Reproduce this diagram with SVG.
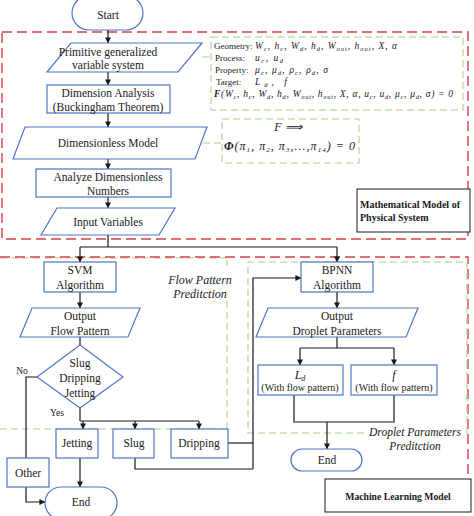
<svg xmlns="http://www.w3.org/2000/svg" width="474" height="516" viewBox="0 0 474 516">
<defs>
<marker id="ah" viewBox="0 0 8 8" refX="7.5" refY="4" markerWidth="6" markerHeight="6" orient="auto" markerUnits="userSpaceOnUse">
<path d="M0,0 L8,4 L0,8 z" fill="#1a1a1a"/>
</marker>
<style>
.n{fill:#fff;stroke:#4f74c2;stroke-width:1.2}
.t{font-family:"Liberation Serif","Times New Roman",serif;font-size:11.5px;fill:#1a1a1a;text-anchor:middle}
.s{font-family:"Liberation Serif","Times New Roman",serif;font-size:9px;fill:#1a1a1a}
.m{font-family:"Liberation Serif","Times New Roman",serif;font-size:9.5px;font-style:italic;fill:#1a1a1a}
.sb{font-size:6.5px;baseline-shift:-2px}
.lbl{font-family:"Liberation Serif","Times New Roman",serif;font-size:12px;font-style:italic;fill:#1a1a1a;text-anchor:middle}
.b{font-family:"Liberation Serif","Times New Roman",serif;font-size:10px;font-weight:bold;fill:#1a1a1a}
.c{fill:none;stroke:#1a1a1a;stroke-width:1.2}
.ca{fill:none;stroke:#1a1a1a;stroke-width:1.2;marker-end:url(#ah)}
.red{fill:none;stroke:#d8414a;stroke-width:1.4;stroke-dasharray:10 5}
.grn{fill:none;stroke:#a9d08c;stroke-width:1.1;stroke-dasharray:7 4}
.bx{fill:#fff;stroke:#1a1a1a;stroke-width:1}
</style>
</defs>

<!-- region frames -->
<g id="frames">
<line class="grn" x1="0" y1="258" x2="227" y2="258"/>
<rect class="red" x="2" y="32" width="466" height="207"/>
<polyline class="red" points="0,257 468,257 468,476"/>
<line class="grn" x1="227" y1="260" x2="227" y2="266"/>
<line class="grn" x1="227" y1="301" x2="227" y2="429"/>
<line class="grn" x1="0" y1="429" x2="227" y2="429"/>
<polyline class="grn" points="364,433 248,433 248,262 467,262 467,433 462,433"/>
<path class="grn" d="M202,57 H211"/>
<rect class="grn" x="211" y="37" width="252" height="73"/>
<path class="grn" d="M203,143 H222"/>
<rect class="grn" x="222" y="119" width="137" height="44"/>
</g>

<!-- connectors -->
<g id="connectors">
<line class="ca" x1="108" y1="30" x2="108" y2="43"/>
<line class="ca" x1="108" y1="72" x2="108" y2="85"/>
<line class="ca" x1="108" y1="113" x2="108" y2="127"/>
<line class="ca" x1="108" y1="159" x2="108" y2="169"/>
<line class="ca" x1="108" y1="197" x2="108" y2="208"/>
<polyline class="c" points="108,235 108,247"/>
<polyline class="c" points="80,247 337,247"/>
<line class="ca" x1="80" y1="247" x2="80" y2="262"/>
<line class="ca" x1="337" y1="247" x2="337" y2="262"/>
<line class="ca" x1="80" y1="292" x2="80" y2="308"/>
<line class="c" x1="80" y1="337" x2="80" y2="345"/>
<polyline class="c" points="37,377 26,377 26,458"/>
<polyline class="ca" points="26,487 26,502 45,502"/>
<polyline class="c" points="80,408 80,421"/>
<polyline class="c" points="80,421 199,421"/>
<line class="ca" x1="83" y1="421" x2="83" y2="429"/>
<line class="ca" x1="135" y1="421" x2="135" y2="429"/>
<line class="ca" x1="199" y1="421" x2="199" y2="429"/>
<line class="ca" x1="80" y1="458" x2="80" y2="487"/>
<polyline class="c" points="135,458 135,469 253,469"/>
<line class="c" x1="228" y1="443" x2="253" y2="443"/>
<polyline class="ca" points="253,469 253,278 301,278"/>
<line class="ca" x1="337" y1="292" x2="337" y2="308"/>
<line class="c" x1="337" y1="337" x2="337" y2="348"/>
<polyline class="c" points="300,348 394,348"/>
<line class="ca" x1="300" y1="348" x2="300" y2="365"/>
<line class="ca" x1="394" y1="348" x2="394" y2="365"/>
<polyline class="c" points="294,395 294,422 394,422 394,395"/>
<line class="ca" x1="327" y1="422" x2="327" y2="449"/>
</g>

<!-- nodes -->
<g id="start">
<rect class="n" x="72" y="-4" width="71" height="34" rx="17"/>
<text class="t" x="108" y="19">Start</text>
</g>
<g id="primitive">
<polygon class="n" points="71,43 202,43 178,72 47,72"/>
<text class="t" x="108" y="56">Primitive generalized</text>
<text class="t" x="108" y="69">variable system</text>
</g>
<g id="dimension-analysis">
<rect class="n" x="47" y="85" width="123" height="28"/>
<text class="t" x="108" y="97">Dimension Analysis</text>
<text class="t" x="108" y="111">(Buckingham  Theorem)</text>
</g>
<g id="dimensionless-model">
<polygon class="n" points="25,127 207,127 195,159 13,159"/>
<text class="t" x="108" y="147">Dimensionless Model</text>
</g>
<g id="analyze">
<rect class="n" x="36" y="169" width="135" height="28"/>
<text class="t" x="108" y="181">Analyze Dimensionless</text>
<text class="t" x="108" y="195">Numbers</text>
</g>
<g id="input-variables">
<polygon class="n" points="57,208 175,208 159,235 41,235"/>
<text class="t" x="108" y="226">Input Variables</text>
</g>

<g id="variables-box">
<text class="s" x="214" y="49">Geometry:</text>
<text class="m" x="255" y="49" textLength="142" lengthAdjust="spacing">W<tspan class="sb">c</tspan>, h<tspan class="sb">c</tspan>, W<tspan class="sb">d</tspan>, h<tspan class="sb">d</tspan>, W<tspan class="sb">out</tspan>, h<tspan class="sb">out</tspan>, X, α</text>
<text class="s" x="215" y="61">Process:</text>
<text class="m" x="255" y="61" textLength="28" lengthAdjust="spacing">u<tspan class="sb">c</tspan>, u<tspan class="sb">d</tspan></text>
<text class="s" x="215" y="73">Property:</text>
<text class="m" x="255" y="73" textLength="73" lengthAdjust="spacing">μ<tspan class="sb">c</tspan>, μ<tspan class="sb">d</tspan>, ρ<tspan class="sb">c</tspan>, ρ<tspan class="sb">d</tspan>, σ</text>
<text class="s" x="216" y="85">Target:</text>
<text class="m" x="255" y="85" textLength="32" lengthAdjust="spacing">L<tspan class="sb">d</tspan>, f</text>
<text class="m" x="214" y="97" textLength="239" lengthAdjust="spacing"><tspan font-weight="bold">F</tspan>(W<tspan class="sb">c</tspan>, h<tspan class="sb">c</tspan>, W<tspan class="sb">d</tspan>, h<tspan class="sb">d</tspan>, W<tspan class="sb">out</tspan>, h<tspan class="sb">out</tspan>, X, α, u<tspan class="sb">c</tspan>, u<tspan class="sb">d</tspan>, μ<tspan class="sb">c</tspan>, μ<tspan class="sb">d</tspan>, σ) = 0</text>
</g>
<g id="pi-box">
<text x="288" y="131" style="font-family:'Liberation Serif',serif;font-size:12px;font-style:italic;fill:#1a1a1a;text-anchor:middle">F ⟹</text>
<text x="224" y="150" textLength="131" lengthAdjust="spacing" style="font-family:'Liberation Serif',serif;font-size:12px;font-style:italic;fill:#1a1a1a"><tspan font-weight="bold">Φ</tspan>(π<tspan font-size="7" baseline-shift="-2">1</tspan>,  π<tspan font-size="7" baseline-shift="-2">2</tspan>,  π<tspan font-size="7" baseline-shift="-2">3</tspan>,...,π<tspan font-size="7" baseline-shift="-2">14</tspan>) = 0</text>
</g>
<g id="math-model-label">
<rect class="bx" x="357" y="189" width="113" height="43"/>
<text class="b" x="360" y="208">Mathematical Model of</text>
<text class="b" x="360" y="221">Physical System</text>
</g>

<g id="svm">
<rect class="n" x="44" y="262" width="72" height="30"/>
<text class="t" x="80" y="274">SVM</text>
<text class="t" x="80" y="289">Algorithm</text>
</g>
<g id="output-flow">
<polygon class="n" points="32,308 140,308 128,337 20,337"/>
<text class="t" x="80" y="320">Output</text>
<text class="t" x="80" y="335">Flow Pattern</text>
</g>
<g id="decision">
<polygon class="n" points="80,345 123,377 80,408 37,377"/>
<text class="t" x="80" y="367">Slug</text>
<text class="t" x="80" y="382">Dripping</text>
<text class="t" x="80" y="397">Jetting</text>
<text x="22" y="374" style="font-family:'Liberation Serif',serif;font-size:9.5px;fill:#1a1a1a;text-anchor:middle">No</text>
<text x="57" y="416" style="font-family:'Liberation Serif',serif;font-size:9.5px;fill:#1a1a1a;text-anchor:middle">Yes</text>
</g>
<g id="jetting">
<rect class="n" x="56" y="429" width="42" height="29"/>
<text class="t" x="77" y="447">Jetting</text>
</g>
<g id="slug">
<rect class="n" x="113" y="429" width="41" height="29"/>
<text class="t" x="134" y="447">Slug</text>
</g>
<g id="dripping">
<rect class="n" x="171" y="429" width="57" height="29"/>
<text class="t" x="199" y="447">Dripping</text>
</g>
<g id="other">
<rect class="n" x="7" y="458" width="42" height="29"/>
<text class="t" x="28" y="477">Other</text>
</g>
<g id="end-left">
<rect class="n" x="45" y="487" width="72" height="32" rx="16"/>
<text class="t" x="81" y="506">End</text>
</g>
<g id="flow-label">
<text class="lbl" x="200" y="284">Flow Pattern</text>
<text class="lbl" x="200" y="298">Preditction</text>
</g>

<g id="bpnn">
<rect class="n" x="301" y="262" width="72" height="30"/>
<text class="t" x="337" y="274">BPNN</text>
<text class="t" x="337" y="289">Algorithm</text>
</g>
<g id="output-droplet">
<polygon class="n" points="268,308 418,308 406,337 256,337"/>
<text class="t" x="337" y="320">Output</text>
<text class="t" x="337" y="335">Droplet Parameters</text>
</g>
<g id="ld">
<rect class="n" x="258" y="365" width="85" height="30"/>
<text x="300" y="379" style="font-family:'Liberation Serif',serif;font-size:12px;font-style:italic;fill:#1a1a1a;text-anchor:middle">L<tspan font-size="8" baseline-shift="-2">d</tspan></text>
<text x="300" y="391" style="font-family:'Liberation Serif',serif;font-size:10px;fill:#1a1a1a;text-anchor:middle">(With flow pattern)</text>
</g>
<g id="f">
<rect class="n" x="351" y="365" width="86" height="30"/>
<text x="394" y="379" style="font-family:'Liberation Serif',serif;font-size:12px;font-style:italic;fill:#1a1a1a;text-anchor:middle">f</text>
<text x="394" y="391" style="font-family:'Liberation Serif',serif;font-size:10px;fill:#1a1a1a;text-anchor:middle">(With flow pattern)</text>
</g>
<g id="end-right">
<rect class="n" x="291" y="449" width="71" height="22" rx="11"/>
<text class="t" x="327" y="464">End</text>
</g>
<g id="droplet-label">
<text x="415" y="436" style="font-family:'Liberation Serif',serif;font-size:11.5px;font-style:italic;fill:#1a1a1a;text-anchor:middle">Droplet Parameters</text>
<text x="415" y="450" style="font-family:'Liberation Serif',serif;font-size:11.5px;font-style:italic;fill:#1a1a1a;text-anchor:middle">Preditction</text>
</g>
<g id="ml-label">
<rect class="bx" x="325" y="479" width="146" height="33"/>
<text class="b" x="398" y="500" style="text-anchor:middle;font-size:9.7px">Machine Learning Model</text>
</g>
</svg>
